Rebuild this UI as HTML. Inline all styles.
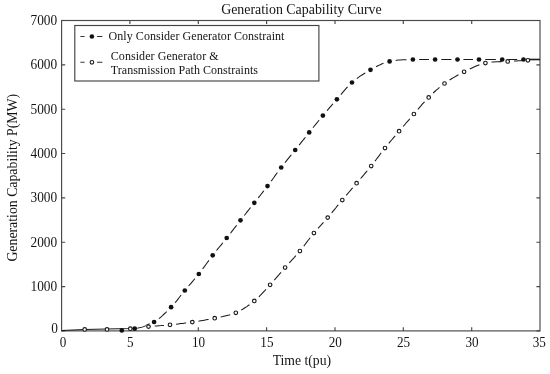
<!DOCTYPE html>
<html><head><meta charset="utf-8"><title>Generation Capability Curve</title>
<style>html,body{margin:0;padding:0;background:#fff}body{width:550px;height:374px;overflow:hidden}svg{display:block}</style></head>
<body>
<svg width="550" height="374" viewBox="0 0 550 374">
<rect width="550" height="374" fill="#fff"/>
<g stroke="#484848" stroke-width="1.15" fill="none">
<rect x="61.6" y="20.5" width="478.4" height="310.4"/>
<path d="M129.9 330.9v-3.6M129.9 20.5v3.6M198.3 330.9v-3.6M198.3 20.5v3.6M266.6 330.9v-3.6M266.6 20.5v3.6M335.0 330.9v-3.6M335.0 20.5v3.6M403.3 330.9v-3.6M403.3 20.5v3.6M471.7 330.9v-3.6M471.7 20.5v3.6M61.6 330.9h3.6M540.0 330.9h-3.6M61.6 286.6h3.6M540.0 286.6h-3.6M61.6 242.2h3.6M540.0 242.2h-3.6M61.6 197.9h3.6M540.0 197.9h-3.6M61.6 153.5h3.6M540.0 153.5h-3.6M61.6 109.2h3.6M540.0 109.2h-3.6M61.6 64.8h3.6M540.0 64.8h-3.6M61.6 20.5h3.6M540.0 20.5h-3.6"/>
</g>
<g stroke="#1a1a1a" stroke-width="1.05" fill="none" stroke-linecap="butt">
<path d="M61.6 330.6 L84.4 329.6 L106.7 329.1 L130 328.5 L138 328 Q143 327.3 146 325.6"/>
<path d="M159.0 318.6L160.8 317.1L162.5 315.6L164.2 314.0L165.9 312.4L166.7 311.6M175.1 302.7L176.5 301.1L177.8 299.4L179.1 297.7L180.4 296.0L181.1 295.1M188.6 286.0L190.0 284.4L191.4 282.8L192.8 281.2L194.2 279.5L194.9 278.7M202.6 269.0L204.0 267.1L205.4 265.2L206.8 263.3L208.2 261.4L208.9 260.4M216.5 250.5L218.0 248.7L219.4 247.0L220.8 245.3L222.2 243.6L222.9 242.7M230.5 233.2L231.9 231.4L233.3 229.6L234.6 227.8L236.0 226.1L236.7 225.2M244.3 215.5L245.7 213.7L247.1 211.9L248.5 210.2L249.9 208.4L250.5 207.5M258.3 197.8L259.6 196.2L260.9 194.5L262.2 192.9L263.5 191.2L263.9 190.8M271.2 181.1L272.6 179.2L274.0 177.3L275.3 175.4L276.7 173.5L277.4 172.6M285.0 162.6L286.4 160.9L287.8 159.1L289.2 157.4L290.6 155.7L291.3 154.8M299.1 145.1L300.5 143.4L301.9 141.6L303.3 139.8L304.7 138.1L305.4 137.2M313.0 127.7L314.3 126.0L315.7 124.3L317.1 122.7L318.4 121.0L319.1 120.2M327.0 110.7L328.4 109.1L329.8 107.4L331.2 105.8L332.6 104.2L333.0 103.8M340.9 94.6L342.3 92.9L343.8 91.1L345.3 89.4L346.8 87.7L347.6 86.8M356.8 78.6L358.7 77.2L360.5 75.9L362.4 74.7L364.3 73.5L365.3 72.9M376.1 66.8L377.9 65.8L379.8 64.9L381.6 64.1L383.5 63.3M395.7 60.4L398.1 60.1L400.5 60.0L402.9 59.8L405.3 59.7L406.5 59.7M419.1 59.4L421.3 59.4L423.5 59.4L425.7 59.4L427.9 59.4L429.0 59.4M441.3 59.5L443.5 59.5L445.8 59.5L448.0 59.5L450.3 59.5L451.4 59.5M463.4 59.5L465.6 59.5L467.7 59.5L469.8 59.5L471.9 59.5L473.0 59.5M485.3 59.5L487.7 59.5L490.0 59.5L492.4 59.5L494.7 59.5L495.9 59.5M508.2 59.5L510.6 59.5L513.1 59.5L515.5 59.5L517.2 59.5"/>
<path d="M154.7 326.1L156.8 325.9L159.0 325.7L161.2 325.6L163.4 325.4L163.9 325.4M176.1 324.2L178.3 323.9L180.5 323.6L182.8 323.4L185.0 323.1L186.1 323.0M198.5 321.2L200.7 320.8L203.0 320.4L205.3 320.0L207.5 319.6L208.6 319.4M220.7 317.0L222.8 316.6L225.0 316.1L227.1 315.6L229.2 315.1L230.2 314.8M241.1 310.1L243.0 309.0L244.9 307.8L246.8 306.6L248.6 305.3L249.5 304.7M258.9 296.8L260.5 295.2L262.0 293.6L263.6 291.9L265.1 290.3L265.9 289.4M274.3 280.1L275.8 278.4L277.3 276.6L278.8 274.9L280.3 273.1L281.0 272.2M289.2 262.9L290.7 261.3L292.2 259.7L293.7 258.1L295.2 256.4L295.9 255.6M303.8 246.1L305.2 244.2L306.6 242.4L308.0 240.5L309.4 238.7L310.1 237.8M318.0 228.3L319.4 226.8L320.8 225.3L322.1 223.8L323.5 222.3M331.7 212.9L333.1 211.1L334.6 209.3L336.1 207.5L337.5 205.7L338.3 204.8M346.2 195.3L347.7 193.7L349.1 192.0L350.5 190.3L351.9 188.7L352.7 187.8M360.6 178.5L362.1 176.8L363.6 175.1L365.0 173.4L366.5 171.7L367.2 170.8M375.0 161.1L376.4 159.3L377.8 157.4L379.2 155.6L380.5 153.8L381.2 152.9M388.8 143.3L390.2 141.6L391.6 140.0L393.0 138.3L394.5 136.6L395.2 135.8M403.1 126.5L404.6 124.8L406.1 123.0L407.6 121.3L409.1 119.6L409.8 118.7M417.9 109.3L419.4 107.6L420.9 105.9L422.3 104.2L423.8 102.6L424.6 101.8M433.2 93.0L434.8 91.5L436.3 90.1L437.9 88.8L439.4 87.4M449.6 80.0L451.5 78.8L453.5 77.6L455.5 76.5L457.5 75.3L458.5 74.7M469.8 69.0L471.9 68.0L474.0 67.0L476.2 66.1L478.3 65.2L479.4 64.8M491.5 62.0L493.8 61.9L496.1 61.7L498.3 61.7L500.6 61.6L501.7 61.6M514.0 61.0L516.3 60.9L518.6 60.8L520.8 60.7L521.9 60.6"/>
<path d="M146.5 325.2L149.5 323.6" />
<path d="M528 59.5L540.0 59.5" stroke-width="1.6"/>
</g>
<g fill="#111" stroke="none">
<circle cx="121.8" cy="330.4" r="2.35"/>
<circle cx="134.7" cy="328.7" r="2.35"/>
<circle cx="154.1" cy="322.0" r="2.35"/>
<circle cx="171.1" cy="307.2" r="2.35"/>
<circle cx="184.8" cy="290.5" r="2.35"/>
<circle cx="198.8" cy="274.0" r="2.35"/>
<circle cx="212.7" cy="255.3" r="2.35"/>
<circle cx="226.7" cy="238.0" r="2.35"/>
<circle cx="240.5" cy="220.3" r="2.35"/>
<circle cx="254.3" cy="202.8" r="2.35"/>
<circle cx="267.5" cy="186.1" r="2.35"/>
<circle cx="281.2" cy="167.5" r="2.35"/>
<circle cx="295.2" cy="150.0" r="2.35"/>
<circle cx="309.2" cy="132.4" r="2.35"/>
<circle cx="322.9" cy="115.6" r="2.35"/>
<circle cx="336.9" cy="99.3" r="2.35"/>
<circle cx="352.0" cy="82.5" r="2.35"/>
<circle cx="370.5" cy="69.8" r="2.35"/>
<circle cx="389.6" cy="61.4" r="2.35"/>
<circle cx="412.9" cy="59.5" r="2.35"/>
<circle cx="435.1" cy="59.5" r="2.35"/>
<circle cx="457.5" cy="59.5" r="2.35"/>
<circle cx="479.0" cy="59.5" r="2.35"/>
<circle cx="502.2" cy="59.5" r="2.35"/>
<circle cx="523.5" cy="59.5" r="2.35"/>
</g>
<g fill="#fff" stroke="#1a1a1a" stroke-width="1.15">
<circle cx="84.7" cy="329.4" r="1.8"/>
<circle cx="107.0" cy="329.4" r="1.8"/>
<circle cx="130.3" cy="328.7" r="1.8"/>
<circle cx="148.5" cy="326.6" r="1.8"/>
<circle cx="170.0" cy="324.8" r="1.8"/>
<circle cx="192.3" cy="322.1" r="1.8"/>
<circle cx="214.7" cy="318.2" r="1.8"/>
<circle cx="235.8" cy="312.8" r="1.8"/>
<circle cx="254.3" cy="300.9" r="1.8"/>
<circle cx="270.1" cy="284.8" r="1.8"/>
<circle cx="285.1" cy="267.5" r="1.8"/>
<circle cx="299.9" cy="251.0" r="1.8"/>
<circle cx="313.9" cy="233.0" r="1.8"/>
<circle cx="327.7" cy="217.6" r="1.8"/>
<circle cx="342.3" cy="200.0" r="1.8"/>
<circle cx="356.6" cy="183.2" r="1.8"/>
<circle cx="371.2" cy="166.0" r="1.8"/>
<circle cx="385.0" cy="148.0" r="1.8"/>
<circle cx="399.1" cy="131.2" r="1.8"/>
<circle cx="413.9" cy="114.0" r="1.8"/>
<circle cx="428.7" cy="97.4" r="1.8"/>
<circle cx="444.5" cy="83.5" r="1.8"/>
<circle cx="464.1" cy="71.8" r="1.8"/>
<circle cx="485.4" cy="63.0" r="1.8"/>
<circle cx="507.7" cy="61.4" r="1.8"/>
<circle cx="527.9" cy="60.3" r="1.8"/>
</g>
<rect x="74.8" y="25.5" width="244.1" height="55.5" fill="#fff" stroke="#444" stroke-width="1.15"/>
<g stroke="#333" stroke-width="1.05"><path d="M80.4 36.4h4.2M97 36.4h5.4M80.4 62.2h4.2M97 62.2h5.4"/></g>
<circle cx="91.9" cy="36.5" r="2.3" fill="#111"/>
<circle cx="91.9" cy="62.3" r="1.8" fill="#fff" stroke="#1a1a1a" stroke-width="1.1"/>
<g font-family="'Liberation Serif', 'Times New Roman', serif" fill="#141414">
<text id="t1" x="108.6" y="39.7" font-size="12" textLength="175.8">Only Consider Generator Constraint</text>
<text id="t2" x="110.8" y="59.7" font-size="12" textLength="107.8">Consider Generator &amp;</text>
<text id="t3" x="110.8" y="73.9" font-size="12" textLength="147.2">Transmission Path Constraints</text>
<text id="title" x="301.4" y="13.6" font-size="13.9" text-anchor="middle">Generation Capability Curve</text>
<text id="xl" x="301.9" y="364.7" font-size="13.7" text-anchor="middle">Time t(pu)</text>
<text id="yl" transform="translate(16.8 177.7) rotate(-90)" font-size="13.8" text-anchor="middle">Generation Capability P(MW)</text>
<g font-size="14">
<text transform="translate(63.1 346.8) scale(0.94 1)" text-anchor="middle">0</text>
<text transform="translate(130.2 346.8) scale(0.94 1)" text-anchor="middle">5</text>
<text transform="translate(198.6 346.8) scale(0.94 1)" text-anchor="middle">10</text>
<text transform="translate(266.9 346.8) scale(0.94 1)" text-anchor="middle">15</text>
<text transform="translate(335.3 346.8) scale(0.94 1)" text-anchor="middle">20</text>
<text transform="translate(403.6 346.8) scale(0.94 1)" text-anchor="middle">25</text>
<text transform="translate(472.0 346.8) scale(0.94 1)" text-anchor="middle">30</text>
<text transform="translate(539.3 346.8) scale(0.94 1)" text-anchor="middle">35</text>
<text transform="translate(58.0 332.7) scale(0.955 1)" text-anchor="end">0</text>
<text transform="translate(57.2 290.9) scale(0.955 1)" text-anchor="end">1000</text>
<text transform="translate(57.2 246.5) scale(0.955 1)" text-anchor="end">2000</text>
<text transform="translate(57.2 202.2) scale(0.955 1)" text-anchor="end">3000</text>
<text transform="translate(57.2 157.8) scale(0.955 1)" text-anchor="end">4000</text>
<text transform="translate(57.2 113.5) scale(0.955 1)" text-anchor="end">5000</text>
<text transform="translate(57.2 69.1) scale(0.955 1)" text-anchor="end">6000</text>
<text transform="translate(57.2 24.8) scale(0.955 1)" text-anchor="end">7000</text>
</g></g></svg>
</body></html>
